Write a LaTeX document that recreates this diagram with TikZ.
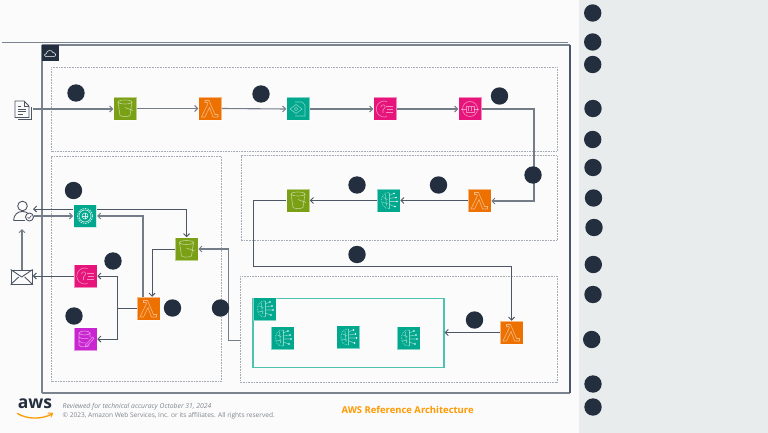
\documentclass[tikz,border=0pt]{standalone}
\usepackage{fontspec}
\setmainfont{Open Sans}
\usetikzlibrary{arrows.meta,calc}
\definecolor{bgc}{HTML}{FBFBFB}
\definecolor{panelc}{HTML}{E8ECED}
\definecolor{navyc}{HTML}{232F3E}
\definecolor{linec}{HTML}{747C88}
\definecolor{darklinec}{HTML}{4C5665}
\definecolor{framec}{HTML}{7B838E}
\definecolor{groupc}{HTML}{A4ABB5}
\definecolor{s3c}{HTML}{7AA116}
\definecolor{lambdac}{HTML}{ED7100}
\definecolor{tealc}{HTML}{01A88D}
\definecolor{pinkc}{HTML}{E7157B}
\definecolor{purplec}{HTML}{C925D1}
\definecolor{orangetxt}{HTML}{FF9900}
\definecolor{greytxt}{HTML}{7F858C}
\tikzset{
  x=1pt,y=-1pt,
  glyph/.style={draw=white,line width=0.6pt,fill=none},
  inpic/.style={shift={(path picture bounding box.center)}},
  tile/.style={rectangle,minimum size=23pt,inner sep=0pt,draw=white,draw opacity=0.5,line width=0.5pt},
  buckettile/.style={tile,fill=s3c,path picture={
    \begin{scope}[inpic,glyph]
      \draw[glyph] (0,-6.5) ellipse (7 and 2);
      \draw[glyph] (-7,-6.5) -- (-5,7) .. controls (-3,8.5) and (3,8.5) .. (5,7) -- (7,-6.5);
      \draw[glyph] (0,-1) -- (8,2);
    \end{scope}}},
  lambdatile/.style={tile,fill=lambdac,path picture={
    \begin{scope}[inpic]
      \draw[glyph] (-5,-8) -- (-1,-8) -- (5,6) -- (8,6) -- (8,8.5) -- (3,8.5) -- (-0.5,-1) -- (-5,8.5) -- (-8.5,8.5) -- (-2,-5) -- (-2.8,-6) -- (-5,-6) -- cycle;
    \end{scope}}},
  braintile/.style={tile,fill=tealc,path picture={
    \begin{scope}[inpic]
      \draw[glyph,densely dotted,line width=1pt] (0.5,-8) .. controls (-9,-9) and (-10,8) .. (0.5,8);
      \draw[glyph] (0.5,-8) -- (0.5,8);
      \draw[glyph] (-5,-3) -- (-1,-1) (-6,2) -- (-1,3) (-3,-6) -- (-2,5);
      \draw[glyph] (1,-5) -- (5,-7) (1,-2) -- (7,-3) (1,1) -- (8,1) (1,4) -- (6,6);
      \fill[white] (5.5,-7) circle (0.9) (7.5,-3) circle (0.9) (8.5,1) circle (0.9) (6.5,6) circle (0.9);
    \end{scope}}},
  geartile/.style={tile,fill=tealc,draw=white,draw opacity=0.8,line width=1pt,path picture={
    \begin{scope}[inpic]
      \draw[glyph,line width=0.8pt,dash pattern=on 1.5pt off 1pt] (0,0) circle (7.5);
      \draw[glyph] (0,0) circle (6);
      \draw[glyph] (0,0) circle (3);
      \draw[glyph] (-3,0) -- (3,0) (0,-3) -- (0,3);
    \end{scope}}},
  eyetile/.style={tile,fill=tealc,path picture={
    \begin{scope}[inpic]
      \draw[glyph] (-3,-7) -- (4,-7) -- (7,-4) -- (7,7) -- (-3,7);
      \draw[glyph] (-8,0) -- (-2,-4.5) -- (4,0) -- (-2,4.5) -- cycle;
      \draw[glyph] (-2,0) circle (1.8);
    \end{scope}}},
  transtile/.style={tile,fill=pinkc,path picture={
    \begin{scope}[inpic]
      \draw[glyph] (2,-7.5) arc (-70:-290:8);
      \draw[glyph] (1,-3) -- (8,-3) (2,0) -- (8,0) (1,3) -- (8,3);
      \draw[glyph] (-4,-2) .. controls (-4,-5) and (1,-5) .. (0,-1.5) -- (-2,1) -- (-2,4);
    \end{scope}}},
  comptile/.style={tile,fill=pinkc,path picture={
    \begin{scope}[inpic]
      \draw[glyph] (0,0) circle (7.5);
      \draw[glyph] (-4,-3) rectangle (4,3);
      \draw[glyph] (-9,0) -- (-4,0) (4,0) -- (9,0);
      \draw[glyph] (-1.5,-2) -- (-1.5,2) (1.5,-2) -- (1.5,2);
    \end{scope}}},
  dbtile/.style={tile,fill=purplec,path picture={
    \begin{scope}[inpic]
      \draw[glyph] (-1,-6) ellipse (5.5 and 2);
      \draw[glyph] (-6.5,-6) -- (-6.5,6) .. controls (-6,8.5) and (3,8.5) .. (4,6.5) (4.5,-6) -- (4.5,-2);
      \draw[glyph] (-6.5,-2) .. controls (-5,0) and (1,0) .. (3,-1) (-6.5,2) .. controls (-5,4) and (-2,4) .. (0,4);
      \draw[glyph] (0,6) -- (7,-2) -- (8.5,-0.5) -- (1.5,7) -- (-0.5,7.5) -- cycle;
    \end{scope}}},
  numdot/.style={circle,fill=navyc,minimum size=17.4pt,inner sep=0pt},
  groupbox/.style={draw=groupc,line width=1pt,dash pattern=on 0.8pt off 0.8pt},
  conn/.style={draw=linec,line width=1.1pt,-{Straight Barb[length=3pt,width=6pt,line width=1pt]}},
  darkconn/.style={conn,draw=darklinec,line width=1pt},
  plainicon/.style={minimum size=20pt,inner sep=0pt},
  iconline/.style={draw=darklinec,line width=0.9pt},
  foot/.style={anchor=west,inner sep=0pt,text=greytxt,font=\fontsize{6.55}{7}\selectfont},
}
\begin{document}
\begin{tikzpicture}
\useasboundingbox (0,0) rectangle (768,433);
\fill[bgc] (0,0) rectangle (579,433);
\fill[panelc] (579,0) rectangle (768,433);
% frame
\draw[framec,line width=1.2pt] (2,42.5) -- (568,42.5);
\draw[framec,line width=1.5pt] (42,45) -- (570,45);
\draw[framec,line width=1.5pt] (42,393) -- (570,393);
\draw[framec,line width=1.5pt] (42,45) -- (42,393);
\draw[darklinec,line width=1.3pt] (570,45) -- (570,393);
\node[rectangle,fill=navyc,minimum size=16.5pt,inner sep=0pt] (cloudtile) at (50.3,53) {};
\draw[white,line width=0.5pt] (45.5,56.5) .. controls (44,56.5) and (44,53.5) .. (46.5,53.3) .. controls (46.5,50) and (52,49.5) .. (53,52.5) .. controls (56,52.5) and (56.5,56.5) .. (54,56.5) -- cycle;
% groups
\draw[groupbox] (51,67.5) rectangle (557,151.5);
\draw[groupbox] (51,156.5) rectangle (221.5,381.5);
\draw[groupbox] (241,155.5) rectangle (557,240.5);
\draw[groupbox] (240,276) rectangle (557,382);
% container
\node[draw=tealc!70!white,line width=1.1pt,minimum width=191pt,minimum height=69.5pt,inner sep=0pt] (container) at (348.5,333) {};
% tiles
\node[buckettile] (s3a) at (125,108.5) {};
\node[lambdatile] (lama) at (210,108.5) {};
\node[eyetile] (eye) at (298,109) {};
\node[transtile] (trans) at (385,109) {};
\node[comptile] (comp) at (470,109) {};
\node[lambdatile] (lamb) at (479.5,200.5) {};
\node[braintile] (brainb) at (388.5,200.5) {};
\node[buckettile] (s3b) at (298,200.5) {};
\node[geartile] (gear) at (85,216) {};
\node[transtile] (transl) at (85.5,276) {};
\node[dbtile] (db) at (85.5,339) {};
\node[lambdatile] (laml) at (148.5,308.5) {};
\node[buckettile] (s3c) at (186.5,249) {};
\node[lambdatile] (lamc) at (511.5,332.5) {};
\node[braintile] (braintop) at (264.5,309) {};
\node[braintile] (brain1) at (282.5,338) {};
\node[braintile] (brain2) at (348,337) {};
\node[braintile] (brain3) at (408.5,338) {};
% plain icons
\node[plainicon] (docicon) at (23,110) {};
\begin{scope}[shift={(23,110)}]
  \draw[iconline] (-5,9.5) -- (8,9.5) -- (8,-3);
  \draw[iconline,fill=bgc] (-8,-9) -- (1,-9) -- (6,-4) -- (6,7.5) -- (-8,7.5) -- cycle;
  \draw[iconline,line width=0.6pt] (1,-9) -- (1,-4) -- (6,-4) (-5,-4) -- (-2,-4) (-5,-1) -- (3,-1) (-5,1.5) -- (3,1.5) (-5,4) -- (0,4);
\end{scope}
\node[plainicon] (user) at (22,212) {};
\begin{scope}[shift={(22,212)}]
  \draw[iconline] (0.5,-6) circle (4.8);
  \draw[iconline] (-8.5,8.5) .. controls (-8,2) and (-4,-0.5) .. (0.5,-0.5) .. controls (3,-0.5) and (5,0.2) .. (6,1.5);
  \draw[iconline] (-8.5,8.5) -- (3,8.5);
  \draw[iconline,fill=bgc] (7.5,5) circle (4);
  \draw[iconline,line width=0.6pt] (5.5,5) -- (7,6.5) -- (9.5,3.5);
\end{scope}
\node[plainicon,minimum width=21pt,minimum height=14pt,draw=darklinec,line width=1pt] (mail) at (21.7,277) {};
\draw[iconline] (mail.north west) -- (mail.center) -- (mail.north east);
\draw[iconline] (mail.south west) -- ([xshift=-3pt]mail.center);
\draw[iconline] (mail.south east) -- ([xshift=3pt]mail.center);
% free ends
\coordinate (c1) at (534,109);
\coordinate (c2) at (534,201);
\coordinate (c3) at (253,200.5);
\coordinate (c4) at (253,266);
\coordinate (c5) at (511.5,266);
\coordinate (c6) at (241,340.5);
\coordinate (c7) at (228.5,340.5);
\coordinate (c8) at (228.5,249);
\coordinate (c9) at (152,249);
\coordinate (c10) at (143,216);
\coordinate (c11) at (186.5,209);
\coordinate (c12) at (117,308.5);
\coordinate (c13) at (117,276);
\coordinate (c14) at (117,339);
\coordinate (docout) at (33,109);
\coordinate (mailtop) at (22,270);
\coordinate (usertop) at (22,229);
\coordinate (userin) at (33,209);
\coordinate (userout) at (34,216);
% connectors
\draw[conn] (docout) -- (s3a.west |- docout);
\draw[conn] (s3a) -- (lama);
\draw[conn] (lama.east) -- (eye.west);
\draw[conn] (eye) -- (trans);
\draw[conn] (trans) -- (comp);
\draw[conn] (comp.east) -- (c1) -- (c2) -- (lamb.east |- c2);
\draw[darkconn] (lamb) -- (brainb);
\draw[darkconn] (brainb) -- (s3b);
\draw[darkconn] (s3b.west) -- (c3) -- (c4) -- (c5) -- (lamc.north);
\draw[darkconn] (lamc) -- (container.east |- lamc);
\draw[conn] (c6) -- (c7) -- (c8) -- (s3c.east |- c8);
\draw[darkconn] (s3c.west) -- (c9) -- (c9 |- laml.north);
\draw[conn] (c10 |- laml.north) -- (c10) -- (gear.east);
\draw[darkconn] ([yshift=7pt]gear.east) -- (c11) -- (s3c.north);
\draw[darkconn] ([yshift=7pt]gear.west) -- (userin);
\draw[conn] (userout) -- (gear.west);
\draw[conn] (mailtop) -- (usertop);
\draw[darkconn] (transl) -- (mail.east |- transl);
\draw[darkconn] (laml.west) -- (c12) -- (c13) -- (transl.east);
\draw[darkconn] (c12) -- (c14) -- (db.east);
% dots
\node[numdot] (d1) at (76,93) {};
\node[numdot] (d2) at (261,94) {};
\node[numdot] (d3) at (499.5,96) {};
\node[numdot] (d4) at (533,175) {};
\node[numdot] (d5) at (357,185) {};
\node[numdot] (d6) at (438.5,185) {};
\node[numdot] (d7) at (73.5,190.5) {};
\node[numdot] (d8) at (113,261) {};
\node[numdot] (d9) at (172.5,308) {};
\node[numdot] (d10) at (220.5,308) {};
\node[numdot] (d11) at (74,316) {};
\node[numdot] (d12) at (357,254.5) {};
\node[numdot] (d13) at (474.5,320) {};
\node[numdot] (r1) at (592.7,13) {};
\node[numdot] (r2) at (592.7,42) {};
\node[numdot] (r3) at (592.7,64.5) {};
\node[numdot] (r4) at (593,108.5) {};
\node[numdot] (r5) at (592.7,139.5) {};
\node[numdot] (r6) at (593,167.5) {};
\node[numdot] (r7) at (593.5,198) {};
\node[numdot] (r8) at (594,227.5) {};
\node[numdot] (r9) at (593.3,264.5) {};
\node[numdot] (r10) at (593,294.5) {};
\node[numdot] (r11) at (591.7,339.5) {};
\node[numdot] (r12) at (593,384) {};
\node[numdot] (r13) at (593,407) {};
% footer
\node[inner sep=0pt,text=navyc,font=\fontsize{17.5}{18}\bfseries\selectfont] (awslogo) at (35,403.5) {aws};
\draw[orangetxt,line width=1.3pt,line cap=round] (17.5,413.5) .. controls (27,419.5) and (42,419.5) .. (52,414);
\draw[orangetxt,line width=1pt,line cap=round] (48,413) -- (52.5,413.3) -- (51,417);
\node[foot,font=\fontsize{6.8}{7}\itshape\selectfont] (rev) at (62.5,406.5) {Reviewed for technical accuracy October 31, 2024};
\node[foot] (copy) at (62.5,415.5) {© 2023, Amazon Web Services, Inc. or its affiliates. All rights reserved.};
\node[anchor=west,inner sep=0pt,text=orangetxt,font=\fontsize{9.45}{10}\bfseries\selectfont] (ref) at (341.5,409.5) {AWS Reference Architecture};
\end{tikzpicture}
\end{document}
